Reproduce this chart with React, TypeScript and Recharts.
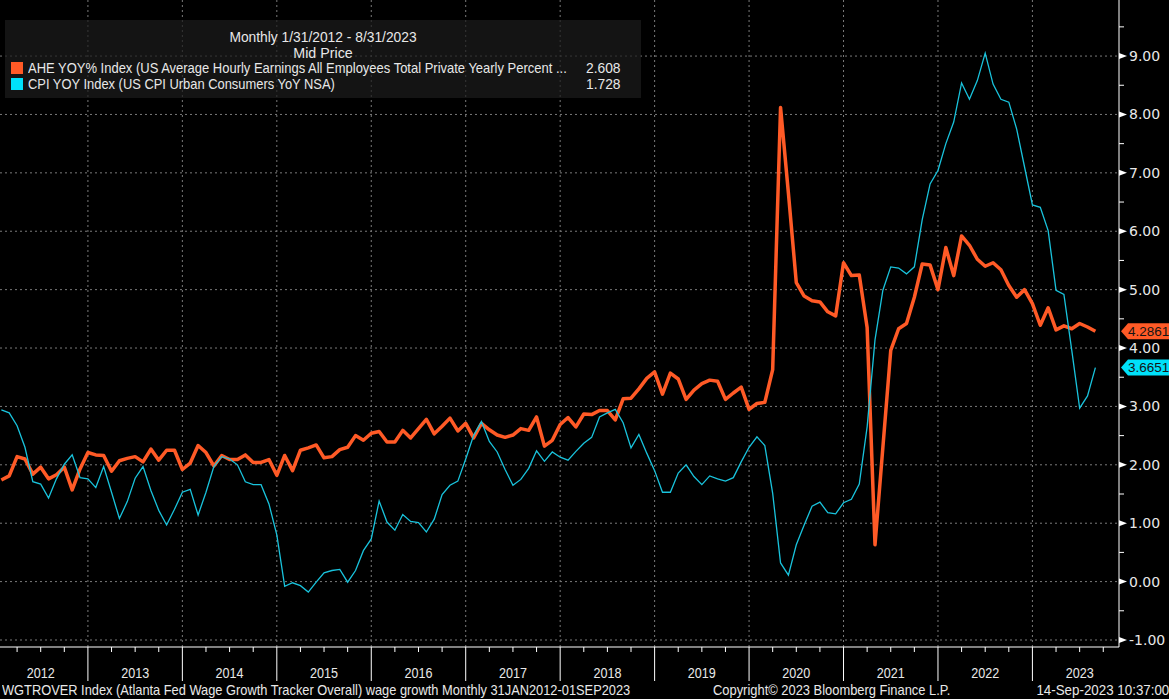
import { CartesianGrid, Line, LineChart, ReferenceLine, XAxis, YAxis } from 'recharts'

const years = ['2012', '2013', '2014', '2015', '2016', '2017', '2018', '2019', '2020', '2021', '2022', '2023']

// monthly, Jan 2012 .. Aug 2023
const aheYoy = [
  1.74, 1.81, 2.14, 2.1, 1.84, 1.96, 1.76, 1.83, 1.96, 1.57, 1.93, 2.21,
  2.17, 2.16, 1.89, 2.07, 2.11, 2.14, 2.05, 2.27, 2.08, 2.25, 2.25, 1.92,
  2.03, 2.33, 2.21, 1.98, 2.16, 2.09, 2.09, 2.17, 2.04, 2.04, 2.09, 1.82,
  2.16, 1.9, 2.25, 2.29, 2.34, 2.12, 2.14, 2.26, 2.3, 2.5, 2.42, 2.54,
  2.57, 2.39, 2.39, 2.59, 2.46, 2.62, 2.78, 2.53, 2.66, 2.8, 2.58, 2.71,
  2.46, 2.71, 2.6, 2.51, 2.47, 2.51, 2.62, 2.59, 2.82, 2.32, 2.42, 2.69,
  2.81, 2.65, 2.87, 2.86, 2.93, 2.93, 2.77, 3.13, 3.14, 3.3, 3.48, 3.59,
  3.21, 3.57, 3.47, 3.12, 3.28, 3.39, 3.45, 3.43, 3.12, 3.23, 3.33, 2.95,
  3.05, 3.07, 3.63, 8.12, 6.65, 5.12, 4.89, 4.81, 4.79, 4.62, 4.55, 5.46,
  5.24, 5.25, 4.35, 0.63, 2.3, 3.96, 4.33, 4.42, 4.87, 5.44, 5.42, 5.0,
  5.72, 5.24, 5.92, 5.76, 5.52, 5.4, 5.46, 5.34, 5.07, 4.87, 5.0, 4.76,
  4.39, 4.69, 4.31, 4.38, 4.33, 4.42, 4.36, 4.2861,
]

const cpiYoy = [
  2.94, 2.89, 2.67, 2.3, 1.71, 1.67, 1.43, 1.76, 2.01, 2.17, 1.78, 1.76,
  1.61, 1.97, 1.53, 1.08, 1.37, 1.77, 1.97, 1.56, 1.22, 0.97, 1.24, 1.53,
  1.58, 1.14, 1.53, 1.97, 2.14, 2.1, 2.0, 1.71, 1.66, 1.66, 1.33, 0.8,
  -0.08, -0.02, -0.07, -0.18, -0.01, 0.15, 0.19, 0.21, -0.01, 0.19, 0.53, 0.73,
  1.38, 1.02, 0.88, 1.15, 1.03, 1.01, 0.85, 1.07, 1.49, 1.65, 1.72, 2.1,
  2.5, 2.74, 2.4, 2.22, 1.92, 1.65, 1.75, 1.94, 2.24, 2.06, 2.22, 2.13,
  2.08, 2.23, 2.37, 2.47, 2.82, 2.89, 2.95, 2.72, 2.29, 2.52, 2.2, 1.9,
  1.53, 1.53, 1.86, 2.0, 1.8, 1.66, 1.81, 1.76, 1.72, 1.78, 2.05, 2.3,
  2.48, 2.33, 1.51, 0.32, 0.11, 0.63, 0.97, 1.29, 1.36, 1.18, 1.16, 1.35,
  1.41, 1.67, 2.65, 4.14, 4.99, 5.39, 5.37, 5.27, 5.39, 6.2, 6.81, 7.04,
  7.5, 7.87, 8.54, 8.26, 8.58, 9.05, 8.52, 8.26, 8.21, 7.75, 7.1, 6.45,
  6.41, 6.01, 4.99, 4.92, 3.96, 2.97, 3.18, 3.6651,
]

const yTicks = [-1, 0, 1, 2, 3, 4, 5, 6, 7, 8, 9]
const yMinorTicks = [-0.5, 0.5, 1.5, 2.5, 3.5, 4.5, 5.5, 6.5, 7.5, 8.5, 9.5]

const legendTitle = 'Monthly 1/31/2012 - 8/31/2023'
const legendSub = 'Mid Price'
const aheName = 'AHE YOY% Index (US Average Hourly Earnings All Employees Total Private Yearly Percent ...'
const cpiName = 'CPI YOY Index (US CPI Urban Consumers YoY NSA)'
const aheLegendValue = '2.608'
const cpiLegendValue = '1.728'
const aheLast = '4.2861'
const cpiLast = '3.6651'
const footLeft = 'WGTROVER Index (Atlanta Fed Wage Growth Tracker Overall) wage growth  Monthly 31JAN2012-01SEP2023'
const footMid = 'Copyright\u00a9 2023 Bloomberg Finance L.P.'
const footRight = '14-Sep-2023 10:37:00'

const ORANGE = '#ff5a26'
const CYAN_LINE = '#19c3dc'
const CYAN_TAG = '#00e1fa'
const narrow = '"Liberation Sans", Arial, sans-serif'

const data = aheYoy.map((v, i) => ({ idx: i, ahe: v, cpi: cpiYoy[i] }))

const xDomain = [-0.17, 142]
// Jan 1 of each year sits one step before that year's January point
const yearStarts = years.map((_, k) => 12 * k - 1).filter((t) => t > xDomain[0])
const quarterTicks: number[] = []
for (let k = 0; k <= years.length; k++) {
  for (let m = 0; m < 4; m++) {
    const t = 12 * k - 1 + 3 * m
    if (t >= 0 && t <= xDomain[1]) quarterTicks.push(t)
  }
}

function XTick({ x, y, payload }: any) {
  const v = payload.value
  const pos = (((v + 1) % 12) + 12) % 12
  if (pos === 0) {
    return <line x1={x} x2={x} y1={y} y2={y + 34} stroke="#fff" strokeWidth={1} />
  }
  const label = pos === 6 ? years[(v + 1 - 6) / 12] : null
  return (
    <g>
      <line x1={x} x2={x} y1={y} y2={y + 5} stroke="#fff" strokeWidth={1} />
      {label && (
        <text
          transform={`translate(${x},${y + 31}) scale(0.84,1)`}
          textAnchor="middle"
          fill="#e8e8e8"
          fontSize={15}
          fontFamily={narrow}
        >
          {label}
        </text>
      )}
    </g>
  )
}

function YTick({ x, y, payload }: any) {
  const v = payload.value
  if (!Number.isInteger(v)) {
    return <line x1={x} x2={x + 5} y1={y} y2={y} stroke="#fff" strokeWidth={1} />
  }
  return (
    <g>
      <polygon points={`${x},${y - 3} ${x + 8},${y} ${x},${y + 3}`} fill="#fff" />
      <text x={x + 10} y={y} dominantBaseline="central" fill="#e8e8e8" fontSize={14} fontFamily="DejaVu Sans, sans-serif">
        {v.toFixed(2)}
      </text>
    </g>
  )
}

function tag(text: string, color: string) {
  return (props: any) => {
    const vb = props.viewBox || {}
    const right = (vb.x ?? 0) + (vb.width ?? 0)
    const y = vb.y ?? 0
    const x0 = right + 2
    return (
      <g>
        <polygon
          points={`${x0},${y} ${x0 + 7},${y - 8} ${1169},${y - 8} ${1169},${y + 8} ${x0 + 7},${y + 8}`}
          fill={color}
        />
        <text x={x0 + 7} y={y} dominantBaseline="central" fill="#141414" fontSize={13.5} fontFamily={narrow}>
          {text}
        </text>
      </g>
    )
  }
}

const textStyle = {
  color: '#e8e8e8',
  fontFamily: narrow,
  fontSize: 15,
  lineHeight: '16px',
  whiteSpace: 'nowrap' as const,
  position: 'absolute' as const,
}
const squeeze = (s: number, origin: string) => ({ transform: `scaleX(${s})`, transformOrigin: origin })

export default function App() {
  return (
    <div style={{ position: 'absolute', left: 0, top: 0, width: 1169, height: 699, background: '#000', overflow: 'hidden' }}>
      <LineChart width={1169} height={699} data={data} margin={{ top: 0, right: 0, bottom: 0, left: 0 }}>
        <CartesianGrid
          stroke="#7a7a7a"
          strokeDasharray="2 3"
          horizontalValues={yTicks}
          verticalValues={yearStarts}
        />
        <XAxis
          dataKey="idx"
          type="number"
          domain={xDomain}
          allowDataOverflow
          ticks={quarterTicks}
          interval={0}
          height={52}
          tickSize={0}
          tickMargin={0}
          tickLine={false}
          axisLine={{ stroke: '#fff' }}
          tick={<XTick />}
        />
        <YAxis
          orientation="right"
          type="number"
          domain={[-1.12, 9.96]}
          allowDataOverflow
          ticks={[...yTicks, ...yMinorTicks].sort((a, b) => a - b)}
          interval={0}
          width={50}
          tickSize={0}
          tickMargin={0}
          tickLine={false}
          axisLine={{ stroke: '#fff' }}
          tick={<YTick />}
        />
        <Line
          dataKey="ahe"
          stroke={ORANGE}
          strokeWidth={3.5}
          dot={false}
          activeDot={false}
          type="linear"
          strokeLinejoin="round"
          isAnimationActive={false}
        />
        <Line
          dataKey="cpi"
          stroke={CYAN_LINE}
          strokeWidth={1.3}
          dot={false}
          activeDot={false}
          type="linear"
          isAnimationActive={false}
        />
        <ReferenceLine y={Number(aheLast)} stroke="none" ifOverflow="visible" label={tag(aheLast, ORANGE)} />
        <ReferenceLine y={Number(cpiLast)} stroke="none" ifOverflow="visible" label={tag(cpiLast, CYAN_TAG)} />
      </LineChart>

      <div style={{ position: 'absolute', left: 5, top: 20, width: 636, height: 78, background: 'rgba(28,28,28,0.72)' }}>
        <div style={{ ...textStyle, left: 0, width: 636, top: 9, textAlign: 'center', ...squeeze(0.92, 'center') }}>{legendTitle}</div>
        <div style={{ ...textStyle, left: 0, width: 636, top: 25, textAlign: 'center', ...squeeze(0.95, 'center') }}>{legendSub}</div>
        <div style={{ position: 'absolute', left: 6, top: 42, width: 12, height: 12, background: ORANGE }} />
        <div style={{ ...textStyle, left: 23, top: 40, ...squeeze(0.865, 'left') }}>{aheName}</div>
        <div style={{ ...textStyle, right: 20, top: 40, ...squeeze(0.92, 'right') }}>{aheLegendValue}</div>
        <div style={{ position: 'absolute', left: 6, top: 58, width: 12, height: 12, background: CYAN_TAG }} />
        <div style={{ ...textStyle, left: 23, top: 56, ...squeeze(0.86, 'left') }}>{cpiName}</div>
        <div style={{ ...textStyle, right: 20, top: 56, ...squeeze(0.92, 'right') }}>{cpiLegendValue}</div>
      </div>

      <div style={{ ...textStyle, left: 2, top: 682, ...squeeze(0.855, 'left') }}>{footLeft}</div>
      <div style={{ ...textStyle, left: 713, top: 682, ...squeeze(0.86, 'left') }}>{footMid}</div>
      <div style={{ ...textStyle, right: 0, top: 682, ...squeeze(0.89, 'right') }}>{footRight}</div>
    </div>
  )
}
